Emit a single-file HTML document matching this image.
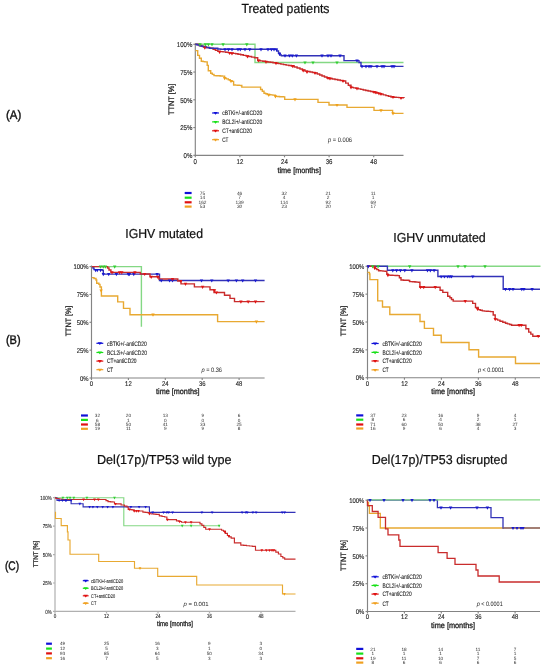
<!DOCTYPE html>
<html><head><meta charset="utf-8"><style>
html,body{margin:0;padding:0;background:#fff;width:550px;height:672px;overflow:hidden}
svg{display:block;will-change:transform}
text{font-family:"Liberation Sans", sans-serif;text-rendering:geometricPrecision}
</style></head><body>
<svg width="550" height="672" viewBox="0 0 550 672">
<rect width="550" height="672" fill="#fff"/>
<path d="M195.3,43.3 V155.3 H403.5" stroke="#848484" stroke-width="1.15" fill="none"/>
<path d="M193.3,155.3 H195.3" stroke="#848484" stroke-width="1.15"/>
<text x="192.40" y="158.10" font-size="7" text-anchor="end" fill="#1e1e1e" font-weight="normal" font-style="normal" textLength="8.8" lengthAdjust="spacingAndGlyphs" stroke="#1e1e1e" stroke-width="0.126" >0%</text>
<path d="M193.3,127.55000000000001 H195.3" stroke="#848484" stroke-width="1.15"/>
<text x="192.40" y="130.35" font-size="7" text-anchor="end" fill="#1e1e1e" font-weight="normal" font-style="normal" textLength="12.19" lengthAdjust="spacingAndGlyphs" stroke="#1e1e1e" stroke-width="0.126" >25%</text>
<path d="M193.3,99.80000000000001 H195.3" stroke="#848484" stroke-width="1.15"/>
<text x="192.40" y="102.60" font-size="7" text-anchor="end" fill="#1e1e1e" font-weight="normal" font-style="normal" textLength="12.19" lengthAdjust="spacingAndGlyphs" stroke="#1e1e1e" stroke-width="0.126" >50%</text>
<path d="M193.3,72.05 H195.3" stroke="#848484" stroke-width="1.15"/>
<text x="192.40" y="74.85" font-size="7" text-anchor="end" fill="#1e1e1e" font-weight="normal" font-style="normal" textLength="12.19" lengthAdjust="spacingAndGlyphs" stroke="#1e1e1e" stroke-width="0.126" >75%</text>
<path d="M193.3,44.3 H195.3" stroke="#848484" stroke-width="1.15"/>
<text x="192.40" y="47.10" font-size="7" text-anchor="end" fill="#1e1e1e" font-weight="normal" font-style="normal" textLength="15.57" lengthAdjust="spacingAndGlyphs" stroke="#1e1e1e" stroke-width="0.126" >100%</text>
<path d="M195.3,155.3 V157.3" stroke="#848484" stroke-width="1.15"/>
<text x="195.30" y="163.80" font-size="7" text-anchor="middle" fill="#1e1e1e" font-weight="normal" font-style="normal" textLength="3.39" lengthAdjust="spacingAndGlyphs" stroke="#1e1e1e" stroke-width="0.126" >0</text>
<path d="M239.9,155.3 V157.3" stroke="#848484" stroke-width="1.15"/>
<text x="239.90" y="163.80" font-size="7" text-anchor="middle" fill="#1e1e1e" font-weight="normal" font-style="normal" textLength="6.77" lengthAdjust="spacingAndGlyphs" stroke="#1e1e1e" stroke-width="0.126" >12</text>
<path d="M284.5,155.3 V157.3" stroke="#848484" stroke-width="1.15"/>
<text x="284.50" y="163.80" font-size="7" text-anchor="middle" fill="#1e1e1e" font-weight="normal" font-style="normal" textLength="6.77" lengthAdjust="spacingAndGlyphs" stroke="#1e1e1e" stroke-width="0.126" >24</text>
<path d="M329.1,155.3 V157.3" stroke="#848484" stroke-width="1.15"/>
<text x="329.10" y="163.80" font-size="7" text-anchor="middle" fill="#1e1e1e" font-weight="normal" font-style="normal" textLength="6.77" lengthAdjust="spacingAndGlyphs" stroke="#1e1e1e" stroke-width="0.126" >36</text>
<path d="M373.70000000000005,155.3 V157.3" stroke="#848484" stroke-width="1.15"/>
<text x="373.70" y="163.80" font-size="7" text-anchor="middle" fill="#1e1e1e" font-weight="normal" font-style="normal" textLength="6.77" lengthAdjust="spacingAndGlyphs" stroke="#1e1e1e" stroke-width="0.126" >48</text>
<text x="0" y="0" font-size="8" text-anchor="middle" fill="#1e1e1e" textLength="31.3" lengthAdjust="spacingAndGlyphs" stroke="#1e1e1e" stroke-width="0.25" transform="translate(174.48,99.4) rotate(-90)">TTNT [%]</text>
<text x="299.20" y="172.88" font-size="8" text-anchor="middle" fill="#1e1e1e" font-weight="normal" font-style="normal" textLength="43.60000000000002" lengthAdjust="spacingAndGlyphs" stroke="#1e1e1e" stroke-width="0.3" >time [months]</text>
<text x="328" y="142.376" font-size="6.6" fill="#1e1e1e" textLength="24" lengthAdjust="spacingAndGlyphs"><tspan font-style="italic">p</tspan> = 0.006</text>
<path d="M195.4,50.6 H197.7 V55.4 H199.5 V58.3 H201.3 V61.3 H203.1 V61.6 H204.8 V61.9 H207.2 V65.4 H208.3 V70.7 H210.7 V73.2 H212.3 V74.4 H214.0 V75.6 H216.1 V75.7 H218.1 V75.8 H220.1 V76.0 H222.2 V76.1 H224.6 V78.1 H226.4 V78.9 H228.3 V79.8 H230.2 V80.6 H232.0 V81.4 H233.6 V85 H235.4 V85.1 H237.3 V85.2 H239.2 V85.4 H241.0 V85.5 H241.8 V87.1 H258.2 H260.6 V89.5 H262.3 V91.3 H264.0 V93.2 H265.6 V93.8 H267.2 V94.5 H269.1 V94.7 H270.9 V94.9 H272.8 V95.1 H274.6 V95.3 H275.4 V96.4 H277.4 V96.5 H279.5 V96.7 H281.6 V96.8 H283.6 V96.9 H284.7 V99.4 H318 V102.4 H329 V105 H347 V107.4 H374 V110.4 H392.6 V113.4 H403.5" stroke="#e8a932" stroke-width="1.4" fill="none"/>
<path d="M195.3,44.3 H255 V62.5 H403.5" stroke="#84d884" stroke-width="1.4" fill="none"/>
<path d="M195.4,44.3 H199.0 V45.5 H201.3 V46.3 H203.6 V47.1 H206.0 V47.5 H208.3 V47.9 H210.7 V48.3 H213.1 V49.3 H215.4 V50.2 H217.8 V51.2 H220.4 V51.6 H223.0 V51.9 H225.6 V52.3 H228.2 V52.6 H230.8 V53.0 H233.2 V53.4 H235.6 V53.8 H238.0 V54.2 H240.7 V54.8 H243.3 V55.4 H245.9 V55.9 H248.6 V56.5 H251.6 V57.1 H254.5 V57.7 H257.7 V60.5 H260.2 V60.9 H262.8 V61.2 H265.4 V61.6 H267.9 V62.0 H270.4 V62.3 H273.0 V62.7 H275.6 V63.2 H278.3 V63.6 H280.9 V64.1 H283.5 V64.6 H286.1 V65.1 H288.8 V65.5 H291.4 V66.0 H294.3 V67.0 H297.1 V68.0 H300.0 V69.0 H302.5 V70.0 H305.0 V71.0 H307.5 V71.5 H310.0 V72.0 H312.5 V72.5 H315.0 V73.0 H317.3 V74.0 H319.7 V75.0 H322.0 V76.0 H324.5 V77.0 H327.0 V78.0 H329.7 V78.5 H332.3 V79.0 H335.0 V79.5 H337.7 V80.0 H340.3 V80.5 H343.0 V81.0 H345.7 V83.1 H348.3 V85.3 H351.0 V87.4 H353.4 V87.9 H355.9 V88.4 H358.3 V88.9 H360.8 V89.4 H363.2 V90.0 H365.7 V90.5 H368.1 V91.0 H370.6 V91.5 H373.0 V92.0 H375.6 V92.7 H378.1 V93.4 H380.7 V94.1 H383.3 V94.9 H385.9 V95.6 H388.4 V96.3 H391.0 V97.0 H393.6 V97.2 H396.2 V97.4 H398.8 V97.6 H401.4 V97.8 H404.0 V98.0" stroke="#c92c2c" stroke-width="1.4" fill="none"/>
<path d="M195.3,44.3 H197 V45 H200 V46 H202.5 V46.5 H206 V47.5 H209.5 V48.3 H217.8 V49 H220.8 V49.3 H276.8 V51 H278.5 V53 H280 V55 H281.4 V55.7 H344 V60.6 H359 V62.5 H361 V66.4 H403.5" stroke="#3232b8" stroke-width="1.4" fill="none"/>
<path d="M223.30,48.20 H226.70 L225,51.40 Z" fill="#1818d0"/>
<path d="M226.80,48.20 H230.20 L228.5,51.40 Z" fill="#1818d0"/>
<path d="M230.30,48.20 H233.70 L232,51.40 Z" fill="#1818d0"/>
<path d="M236.30,48.20 H239.70 L238,51.40 Z" fill="#1818d0"/>
<path d="M238.60,48.20 H242.00 L240.3,51.40 Z" fill="#1818d0"/>
<path d="M243.30,48.20 H246.70 L245,51.40 Z" fill="#1818d0"/>
<path d="M248.00,48.20 H251.40 L249.7,51.40 Z" fill="#1818d0"/>
<path d="M259.30,48.20 H262.70 L261,51.40 Z" fill="#1818d0"/>
<path d="M266.30,48.20 H269.70 L268,51.40 Z" fill="#1818d0"/>
<path d="M269.70,48.20 H273.10 L271.4,51.40 Z" fill="#1818d0"/>
<path d="M272.30,48.20 H275.70 L274,51.40 Z" fill="#1818d0"/>
<path d="M274.70,48.40 H278.10 L276.4,51.60 Z" fill="#1818d0"/>
<path d="M277.80,52.90 H281.20 L279.5,56.10 Z" fill="#1818d0"/>
<path d="M283.30,54.60 H286.70 L285,57.80 Z" fill="#1818d0"/>
<path d="M287.80,54.60 H291.20 L289.5,57.80 Z" fill="#1818d0"/>
<path d="M290.60,54.60 H294.00 L292.3,57.80 Z" fill="#1818d0"/>
<path d="M294.70,54.60 H298.10 L296.4,57.80 Z" fill="#1818d0"/>
<path d="M320.30,54.60 H323.70 L322,57.80 Z" fill="#1818d0"/>
<path d="M326.30,54.60 H329.70 L328,57.80 Z" fill="#1818d0"/>
<path d="M329.30,54.60 H332.70 L331,57.80 Z" fill="#1818d0"/>
<path d="M338.30,54.60 H341.70 L340,57.80 Z" fill="#1818d0"/>
<path d="M355.30,59.50 H358.70 L357,62.70 Z" fill="#1818d0"/>
<path d="M360.30,65.30 H363.70 L362,68.50 Z" fill="#1818d0"/>
<path d="M364.30,65.30 H367.70 L366,68.50 Z" fill="#1818d0"/>
<path d="M367.30,65.30 H370.70 L369,68.50 Z" fill="#1818d0"/>
<path d="M369.30,65.30 H372.70 L371,68.50 Z" fill="#1818d0"/>
<path d="M375.30,65.30 H378.70 L377,68.50 Z" fill="#1818d0"/>
<path d="M380.30,65.30 H383.70 L382,68.50 Z" fill="#1818d0"/>
<path d="M382.30,65.30 H385.70 L384,68.50 Z" fill="#1818d0"/>
<path d="M390.30,65.30 H393.70 L392,68.50 Z" fill="#1818d0"/>
<path d="M392.30,65.30 H395.70 L394,68.50 Z" fill="#1818d0"/>
<path d="M203.10,46.50 H206.50 L204.8,49.70 Z" fill="#e01414"/>
<path d="M217.90,50.90 H221.30 L219.6,54.10 Z" fill="#e01414"/>
<path d="M227.90,51.90 H231.30 L229.6,55.10 Z" fill="#e01414"/>
<path d="M230.30,52.40 H233.70 L232,55.60 Z" fill="#e01414"/>
<path d="M245.70,55.20 H249.10 L247.4,58.40 Z" fill="#e01414"/>
<path d="M256.90,59.40 H260.30 L258.6,62.60 Z" fill="#e01414"/>
<path d="M264.30,60.70 H267.70 L266,63.90 Z" fill="#e01414"/>
<path d="M274.30,62.10 H277.70 L276,65.30 Z" fill="#e01414"/>
<path d="M291.00,65.10 H294.40 L292.7,68.30 Z" fill="#e01414"/>
<path d="M301.50,69.40 H304.90 L303.2,72.60 Z" fill="#e01414"/>
<path d="M305.30,70.90 H308.70 L307,74.10 Z" fill="#e01414"/>
<path d="M313.30,71.90 H316.70 L315,75.10 Z" fill="#e01414"/>
<path d="M326.30,76.90 H329.70 L328,80.10 Z" fill="#e01414"/>
<path d="M328.30,77.40 H331.70 L330,80.60 Z" fill="#e01414"/>
<path d="M341.30,79.90 H344.70 L343,83.10 Z" fill="#e01414"/>
<path d="M349.30,86.30 H352.70 L351,89.50 Z" fill="#e01414"/>
<path d="M355.30,87.40 H358.70 L357,90.60 Z" fill="#e01414"/>
<path d="M372.30,90.90 H375.70 L374,94.10 Z" fill="#e01414"/>
<path d="M374.30,91.40 H377.70 L376,94.60 Z" fill="#e01414"/>
<path d="M377.30,92.40 H380.70 L379,95.60 Z" fill="#e01414"/>
<path d="M379.30,92.90 H382.70 L381,96.10 Z" fill="#e01414"/>
<path d="M391.30,95.90 H394.70 L393,99.10 Z" fill="#e01414"/>
<path d="M399.30,96.90 H402.70 L401,100.10 Z" fill="#e01414"/>
<path d="M198.30,43.20 H201.70 L200,46.40 Z" fill="#30d030"/>
<path d="M203.70,43.20 H207.10 L205.4,46.40 Z" fill="#30d030"/>
<path d="M206.70,43.20 H210.10 L208.4,46.40 Z" fill="#30d030"/>
<path d="M210.30,43.20 H213.70 L212,46.40 Z" fill="#30d030"/>
<path d="M221.40,43.20 H224.80 L223.1,46.40 Z" fill="#30d030"/>
<path d="M245.10,43.20 H248.50 L246.8,46.40 Z" fill="#30d030"/>
<path d="M303.30,61.40 H306.70 L305,64.60 Z" fill="#30d030"/>
<path d="M311.30,61.40 H314.70 L313,64.60 Z" fill="#30d030"/>
<path d="M335.30,61.40 H338.70 L337,64.60 Z" fill="#30d030"/>
<path d="M222.90,77.00 H226.30 L224.6,80.20 Z" fill="#f0a018"/>
<path d="M229.30,80.10 H232.70 L231,83.30 Z" fill="#f0a018"/>
<path d="M267.10,93.70 H270.50 L268.8,96.90 Z" fill="#f0a018"/>
<path d="M273.70,95.30 H277.10 L275.4,98.50 Z" fill="#f0a018"/>
<path d="M293.30,98.30 H296.70 L295,101.50 Z" fill="#f0a018"/>
<path d="M335.30,103.90 H338.70 L337,107.10 Z" fill="#f0a018"/>
<path d="M379.30,109.30 H382.70 L381,112.50 Z" fill="#f0a018"/>
<path d="M391.30,112.30 H394.70 L393,115.50 Z" fill="#f0a018"/>
<path d="M212.1,113 H219" stroke="#1010d8" stroke-width="1.2"/>
<path d="M213.35000000000002,112.0 L217.75,112.0 L215.55,114.8 Z" fill="#1010d8"/>
<text x="222.20" y="115.34" font-size="6.5" text-anchor="start" fill="#1e1e1e" font-weight="normal" font-style="normal" textLength="40" lengthAdjust="spacingAndGlyphs" stroke="#1e1e1e" stroke-width="0.117" >cBTKi+/-antiCD20</text>
<path d="M212.1,121.9 H219" stroke="#18e018" stroke-width="1.2"/>
<path d="M213.35000000000002,120.9 L217.75,120.9 L215.55,123.7 Z" fill="#18e018"/>
<text x="222.20" y="124.24" font-size="6.5" text-anchor="start" fill="#1e1e1e" font-weight="normal" font-style="normal" textLength="40" lengthAdjust="spacingAndGlyphs" stroke="#1e1e1e" stroke-width="0.117" >BCL2i+/-antiCD20</text>
<path d="M212.1,130.8 H219" stroke="#e01010" stroke-width="1.2"/>
<path d="M213.35000000000002,129.8 L217.75,129.8 L215.55,132.60000000000002 Z" fill="#e01010"/>
<text x="222.20" y="133.14" font-size="6.5" text-anchor="start" fill="#1e1e1e" font-weight="normal" font-style="normal" textLength="29.7" lengthAdjust="spacingAndGlyphs" stroke="#1e1e1e" stroke-width="0.117" >CT+antiCD20</text>
<path d="M212.1,139.7 H219" stroke="#f0a020" stroke-width="1.2"/>
<path d="M213.35000000000002,138.7 L217.75,138.7 L215.55,141.5 Z" fill="#f0a020"/>
<text x="222.20" y="142.04" font-size="6.5" text-anchor="start" fill="#1e1e1e" font-weight="normal" font-style="normal" textLength="6.2" lengthAdjust="spacingAndGlyphs" stroke="#1e1e1e" stroke-width="0.117" >CT</text>
<path d="M184.7,193 H191.6" stroke="#1010d8" stroke-width="2.2"/>
<text x="202.5" y="194.73" font-size="4.8" text-anchor="middle" fill="#2e2e2e">75</text>
<text x="239.6" y="194.73" font-size="4.8" text-anchor="middle" fill="#2e2e2e">46</text>
<text x="284.2" y="194.73" font-size="4.8" text-anchor="middle" fill="#2e2e2e">32</text>
<text x="328.2" y="194.73" font-size="4.8" text-anchor="middle" fill="#2e2e2e">21</text>
<text x="373.2" y="194.73" font-size="4.8" text-anchor="middle" fill="#2e2e2e">11</text>
<path d="M184.7,197.7 H191.6" stroke="#18e018" stroke-width="2.2"/>
<text x="202.5" y="199.43" font-size="4.8" text-anchor="middle" fill="#2e2e2e">14</text>
<text x="239.6" y="199.43" font-size="4.8" text-anchor="middle" fill="#2e2e2e">7</text>
<text x="284.2" y="199.43" font-size="4.8" text-anchor="middle" fill="#2e2e2e">4</text>
<text x="328.2" y="199.43" font-size="4.8" text-anchor="middle" fill="#2e2e2e">2</text>
<text x="373.2" y="199.43" font-size="4.8" text-anchor="middle" fill="#2e2e2e">1</text>
<path d="M184.7,202.3 H191.6" stroke="#e01010" stroke-width="2.2"/>
<text x="202.5" y="204.03" font-size="4.8" text-anchor="middle" fill="#2e2e2e">162</text>
<text x="239.6" y="204.03" font-size="4.8" text-anchor="middle" fill="#2e2e2e">139</text>
<text x="284.2" y="204.03" font-size="4.8" text-anchor="middle" fill="#2e2e2e">114</text>
<text x="328.2" y="204.03" font-size="4.8" text-anchor="middle" fill="#2e2e2e">92</text>
<text x="373.2" y="204.03" font-size="4.8" text-anchor="middle" fill="#2e2e2e">69</text>
<path d="M184.7,206.6 H191.6" stroke="#f0a020" stroke-width="2.2"/>
<text x="202.5" y="208.33" font-size="4.8" text-anchor="middle" fill="#2e2e2e">53</text>
<text x="239.6" y="208.33" font-size="4.8" text-anchor="middle" fill="#2e2e2e">30</text>
<text x="284.2" y="208.33" font-size="4.8" text-anchor="middle" fill="#2e2e2e">23</text>
<text x="328.2" y="208.33" font-size="4.8" text-anchor="middle" fill="#2e2e2e">20</text>
<text x="373.2" y="208.33" font-size="4.8" text-anchor="middle" fill="#2e2e2e">17</text>
<text x="285.45" y="12.70" font-size="13.2" text-anchor="middle" fill="#111" font-weight="normal" font-style="normal" textLength="88.1" lengthAdjust="spacingAndGlyphs" stroke="#111" stroke-width="0.22" >Treated patients</text>
<path d="M91.5,265.6 V378 H264.6" stroke="#848484" stroke-width="1.15" fill="none"/>
<path d="M89.5,378.0 H91.5" stroke="#848484" stroke-width="1.15"/>
<text x="88.60" y="380.72" font-size="6.8" text-anchor="end" fill="#1e1e1e" font-weight="normal" font-style="normal" textLength="8.55" lengthAdjust="spacingAndGlyphs" stroke="#1e1e1e" stroke-width="0.122" >0%</text>
<path d="M89.5,350.15 H91.5" stroke="#848484" stroke-width="1.15"/>
<text x="88.60" y="352.87" font-size="6.8" text-anchor="end" fill="#1e1e1e" font-weight="normal" font-style="normal" textLength="11.84" lengthAdjust="spacingAndGlyphs" stroke="#1e1e1e" stroke-width="0.122" >25%</text>
<path d="M89.5,322.3 H91.5" stroke="#848484" stroke-width="1.15"/>
<text x="88.60" y="325.02" font-size="6.8" text-anchor="end" fill="#1e1e1e" font-weight="normal" font-style="normal" textLength="11.84" lengthAdjust="spacingAndGlyphs" stroke="#1e1e1e" stroke-width="0.122" >50%</text>
<path d="M89.5,294.45000000000005 H91.5" stroke="#848484" stroke-width="1.15"/>
<text x="88.60" y="297.17" font-size="6.8" text-anchor="end" fill="#1e1e1e" font-weight="normal" font-style="normal" textLength="11.84" lengthAdjust="spacingAndGlyphs" stroke="#1e1e1e" stroke-width="0.122" >75%</text>
<path d="M89.5,266.6 H91.5" stroke="#848484" stroke-width="1.15"/>
<text x="88.60" y="269.32" font-size="6.8" text-anchor="end" fill="#1e1e1e" font-weight="normal" font-style="normal" textLength="15.13" lengthAdjust="spacingAndGlyphs" stroke="#1e1e1e" stroke-width="0.122" >100%</text>
<path d="M91.5,378 V380" stroke="#848484" stroke-width="1.15"/>
<text x="91.50" y="385.60" font-size="6.8" text-anchor="middle" fill="#1e1e1e" font-weight="normal" font-style="normal" textLength="3.29" lengthAdjust="spacingAndGlyphs" stroke="#1e1e1e" stroke-width="0.122" >0</text>
<path d="M128.4,378 V380" stroke="#848484" stroke-width="1.15"/>
<text x="128.40" y="385.60" font-size="6.8" text-anchor="middle" fill="#1e1e1e" font-weight="normal" font-style="normal" textLength="6.58" lengthAdjust="spacingAndGlyphs" stroke="#1e1e1e" stroke-width="0.122" >12</text>
<path d="M165.3,378 V380" stroke="#848484" stroke-width="1.15"/>
<text x="165.30" y="385.60" font-size="6.8" text-anchor="middle" fill="#1e1e1e" font-weight="normal" font-style="normal" textLength="6.58" lengthAdjust="spacingAndGlyphs" stroke="#1e1e1e" stroke-width="0.122" >24</text>
<path d="M202.2,378 V380" stroke="#848484" stroke-width="1.15"/>
<text x="202.20" y="385.60" font-size="6.8" text-anchor="middle" fill="#1e1e1e" font-weight="normal" font-style="normal" textLength="6.58" lengthAdjust="spacingAndGlyphs" stroke="#1e1e1e" stroke-width="0.122" >36</text>
<path d="M239.1,378 V380" stroke="#848484" stroke-width="1.15"/>
<text x="239.10" y="385.60" font-size="6.8" text-anchor="middle" fill="#1e1e1e" font-weight="normal" font-style="normal" textLength="6.58" lengthAdjust="spacingAndGlyphs" stroke="#1e1e1e" stroke-width="0.122" >48</text>
<text x="0" y="0" font-size="7.8" text-anchor="middle" fill="#1e1e1e" textLength="30.5" lengthAdjust="spacingAndGlyphs" stroke="#1e1e1e" stroke-width="0.25" transform="translate(70.608,321) rotate(-90)">TTNT [%]</text>
<text x="177.80" y="393.84" font-size="7.9" text-anchor="middle" fill="#1e1e1e" font-weight="normal" font-style="normal" textLength="43.599999999999994" lengthAdjust="spacingAndGlyphs" stroke="#1e1e1e" stroke-width="0.3" >time [months]</text>
<text x="201.5" y="371.904" font-size="6.4" fill="#1e1e1e" textLength="20.5" lengthAdjust="spacingAndGlyphs"><tspan font-style="italic">p</tspan> = 0.36</text>
<path d="M91.8,266.6 H141.4 V326.7" stroke="#84d884" stroke-width="1.4" fill="none"/>
<path d="M91.8,277.6 H94 V278.5 H96 V280 H96.7 V283.3 H98.9 V284.4 H100 V287 H101.4 V296 H117.7 V301.9 H123.5 V308.4 H130 V314.7 H217.6 V321.6 H264.6" stroke="#e8a932" stroke-width="1.4" fill="none"/>
<path d="M91.8,266.6 H93 V268 H94 V269.6 H102.2 V270.2 H103.3 V274.1 H159.5 V280.5 H264.6" stroke="#3232b8" stroke-width="1.4" fill="none"/>
<path d="M91.8,266.6 H107.6 V268 H109 V270 H110.9 V272.4 H140.3 V274 H150 V276.8 H158.9 V279 H177.8 V281 H181 V283.9 H194.4 V286.9 H210 V289.8 H214 V292.5 H224.5 V295.3 H230 V298.4 H234.5 V301.6 H264.6" stroke="#c92c2c" stroke-width="1.4" fill="none"/>
<path d="M93.90,269.10 H97.30 L95.6,272.30 Z" fill="#1818d0"/>
<path d="M95.60,269.10 H99.00 L97.3,272.30 Z" fill="#1818d0"/>
<path d="M98.80,269.10 H102.20 L100.5,272.30 Z" fill="#1818d0"/>
<path d="M101.60,273.00 H105.00 L103.3,276.20 Z" fill="#1818d0"/>
<path d="M107.00,273.00 H110.40 L108.7,276.20 Z" fill="#1818d0"/>
<path d="M114.70,273.00 H118.10 L116.4,276.20 Z" fill="#1818d0"/>
<path d="M126.60,273.00 H130.00 L128.3,276.20 Z" fill="#1818d0"/>
<path d="M127.70,273.00 H131.10 L129.4,276.20 Z" fill="#1818d0"/>
<path d="M132.10,273.00 H135.50 L133.8,276.20 Z" fill="#1818d0"/>
<path d="M155.40,273.00 H158.80 L157.1,276.20 Z" fill="#1818d0"/>
<path d="M159.60,279.40 H163.00 L161.3,282.60 Z" fill="#1818d0"/>
<path d="M167.90,279.40 H171.30 L169.6,282.60 Z" fill="#1818d0"/>
<path d="M170.80,279.40 H174.20 L172.5,282.60 Z" fill="#1818d0"/>
<path d="M199.80,279.40 H203.20 L201.5,282.60 Z" fill="#1818d0"/>
<path d="M210.10,279.40 H213.50 L211.8,282.60 Z" fill="#1818d0"/>
<path d="M226.50,279.40 H229.90 L228.2,282.60 Z" fill="#1818d0"/>
<path d="M234.70,279.40 H238.10 L236.4,282.60 Z" fill="#1818d0"/>
<path d="M241.00,279.40 H244.40 L242.7,282.60 Z" fill="#1818d0"/>
<path d="M253.80,279.40 H257.20 L255.5,282.60 Z" fill="#1818d0"/>
<path d="M110.30,271.30 H113.70 L112,274.50 Z" fill="#e01414"/>
<path d="M117.90,271.30 H121.30 L119.6,274.50 Z" fill="#e01414"/>
<path d="M120.10,271.30 H123.50 L121.8,274.50 Z" fill="#e01414"/>
<path d="M133.20,271.30 H136.60 L134.9,274.50 Z" fill="#e01414"/>
<path d="M143.00,272.90 H146.40 L144.7,276.10 Z" fill="#e01414"/>
<path d="M149.50,275.70 H152.90 L151.2,278.90 Z" fill="#e01414"/>
<path d="M156.00,275.70 H159.40 L157.7,278.90 Z" fill="#e01414"/>
<path d="M170.80,277.90 H174.20 L172.5,281.10 Z" fill="#e01414"/>
<path d="M179.10,279.90 H182.50 L180.8,283.10 Z" fill="#e01414"/>
<path d="M183.80,282.80 H187.20 L185.5,286.00 Z" fill="#e01414"/>
<path d="M200.90,285.80 H204.30 L202.6,289.00 Z" fill="#e01414"/>
<path d="M212.80,289.30 H216.20 L214.5,292.50 Z" fill="#e01414"/>
<path d="M214.70,291.40 H218.10 L216.4,294.60 Z" fill="#e01414"/>
<path d="M239.20,300.50 H242.60 L240.9,303.70 Z" fill="#e01414"/>
<path d="M246.50,300.50 H249.90 L248.2,303.70 Z" fill="#e01414"/>
<path d="M253.80,300.50 H257.20 L255.5,303.70 Z" fill="#e01414"/>
<path d="M98.80,265.50 H102.20 L100.5,268.70 Z" fill="#30d030"/>
<path d="M101.60,265.50 H105.00 L103.3,268.70 Z" fill="#30d030"/>
<path d="M103.70,265.50 H107.10 L105.4,268.70 Z" fill="#30d030"/>
<path d="M113.00,265.50 H116.40 L114.7,268.70 Z" fill="#30d030"/>
<path d="M99.40,289.40 H102.80 L101.1,292.60 Z" fill="#f0a018"/>
<path d="M151.30,313.60 H154.70 L153,316.80 Z" fill="#f0a018"/>
<path d="M254.70,320.50 H258.10 L256.4,323.70 Z" fill="#f0a018"/>
<path d="M96.4,343.3 H103.3" stroke="#1010d8" stroke-width="1.2"/>
<path d="M97.64999999999999,342.3 L102.05,342.3 L99.85,345.1 Z" fill="#1010d8"/>
<text x="106.90" y="345.60" font-size="6.4" text-anchor="start" fill="#1e1e1e" font-weight="normal" font-style="normal" textLength="40" lengthAdjust="spacingAndGlyphs" stroke="#1e1e1e" stroke-width="0.115" >cBTKi+/-antiCD20</text>
<path d="M96.4,352.5 H103.3" stroke="#18e018" stroke-width="1.2"/>
<path d="M97.64999999999999,351.5 L102.05,351.5 L99.85,354.3 Z" fill="#18e018"/>
<text x="106.90" y="354.80" font-size="6.4" text-anchor="start" fill="#1e1e1e" font-weight="normal" font-style="normal" textLength="40" lengthAdjust="spacingAndGlyphs" stroke="#1e1e1e" stroke-width="0.115" >BCL2i+/-antiCD20</text>
<path d="M96.4,361.1 H103.3" stroke="#e01010" stroke-width="1.2"/>
<path d="M97.64999999999999,360.1 L102.05,360.1 L99.85,362.90000000000003 Z" fill="#e01010"/>
<text x="106.90" y="363.40" font-size="6.4" text-anchor="start" fill="#1e1e1e" font-weight="normal" font-style="normal" textLength="29.7" lengthAdjust="spacingAndGlyphs" stroke="#1e1e1e" stroke-width="0.115" >CT+antiCD20</text>
<path d="M96.4,369.7 H103.3" stroke="#f0a020" stroke-width="1.2"/>
<path d="M97.64999999999999,368.7 L102.05,368.7 L99.85,371.5 Z" fill="#f0a020"/>
<text x="106.90" y="372.00" font-size="6.4" text-anchor="start" fill="#1e1e1e" font-weight="normal" font-style="normal" textLength="6.2" lengthAdjust="spacingAndGlyphs" stroke="#1e1e1e" stroke-width="0.115" >CT</text>
<path d="M81,415.5 H87.9" stroke="#1010d8" stroke-width="2.2"/>
<text x="97.4" y="417.19" font-size="4.7" text-anchor="middle" fill="#2e2e2e">32</text>
<text x="128.4" y="417.19" font-size="4.7" text-anchor="middle" fill="#2e2e2e">20</text>
<text x="165.3" y="417.19" font-size="4.7" text-anchor="middle" fill="#2e2e2e">13</text>
<text x="202.7" y="417.19" font-size="4.7" text-anchor="middle" fill="#2e2e2e">9</text>
<text x="239.1" y="417.19" font-size="4.7" text-anchor="middle" fill="#2e2e2e">6</text>
<path d="M81,419.9 H87.9" stroke="#18e018" stroke-width="2.2"/>
<text x="97.4" y="421.59" font-size="4.7" text-anchor="middle" fill="#2e2e2e">6</text>
<text x="128.4" y="421.59" font-size="4.7" text-anchor="middle" fill="#2e2e2e">1</text>
<text x="165.3" y="421.59" font-size="4.7" text-anchor="middle" fill="#2e2e2e">0</text>
<text x="202.7" y="421.59" font-size="4.7" text-anchor="middle" fill="#2e2e2e">0</text>
<text x="239.1" y="421.59" font-size="4.7" text-anchor="middle" fill="#2e2e2e">0</text>
<path d="M81,424.5 H87.9" stroke="#e01010" stroke-width="2.2"/>
<text x="97.4" y="426.19" font-size="4.7" text-anchor="middle" fill="#2e2e2e">58</text>
<text x="128.4" y="426.19" font-size="4.7" text-anchor="middle" fill="#2e2e2e">50</text>
<text x="165.3" y="426.19" font-size="4.7" text-anchor="middle" fill="#2e2e2e">41</text>
<text x="202.7" y="426.19" font-size="4.7" text-anchor="middle" fill="#2e2e2e">33</text>
<text x="239.1" y="426.19" font-size="4.7" text-anchor="middle" fill="#2e2e2e">25</text>
<path d="M81,428.8 H87.9" stroke="#f0a020" stroke-width="2.2"/>
<text x="97.4" y="430.49" font-size="4.7" text-anchor="middle" fill="#2e2e2e">19</text>
<text x="128.4" y="430.49" font-size="4.7" text-anchor="middle" fill="#2e2e2e">11</text>
<text x="165.3" y="430.49" font-size="4.7" text-anchor="middle" fill="#2e2e2e">9</text>
<text x="202.7" y="430.49" font-size="4.7" text-anchor="middle" fill="#2e2e2e">9</text>
<text x="239.1" y="430.49" font-size="4.7" text-anchor="middle" fill="#2e2e2e">8</text>
<text x="164.15" y="238.20" font-size="13" text-anchor="middle" fill="#111" font-weight="normal" font-style="normal" textLength="77.7" lengthAdjust="spacingAndGlyphs" stroke="#111" stroke-width="0.22" >IGHV mutated</text>
<path d="M367.5,265.3 V377.7 H540" stroke="#848484" stroke-width="1.15" fill="none"/>
<path d="M365.5,377.7 H367.5" stroke="#848484" stroke-width="1.15"/>
<text x="364.30" y="380.42" font-size="6.8" text-anchor="end" fill="#1e1e1e" font-weight="normal" font-style="normal" textLength="8.55" lengthAdjust="spacingAndGlyphs" stroke="#1e1e1e" stroke-width="0.122" >0%</text>
<path d="M365.5,349.85 H367.5" stroke="#848484" stroke-width="1.15"/>
<text x="364.30" y="352.57" font-size="6.8" text-anchor="end" fill="#1e1e1e" font-weight="normal" font-style="normal" textLength="11.84" lengthAdjust="spacingAndGlyphs" stroke="#1e1e1e" stroke-width="0.122" >25%</text>
<path d="M365.5,322.0 H367.5" stroke="#848484" stroke-width="1.15"/>
<text x="364.30" y="324.72" font-size="6.8" text-anchor="end" fill="#1e1e1e" font-weight="normal" font-style="normal" textLength="11.84" lengthAdjust="spacingAndGlyphs" stroke="#1e1e1e" stroke-width="0.122" >50%</text>
<path d="M365.5,294.15 H367.5" stroke="#848484" stroke-width="1.15"/>
<text x="364.30" y="296.87" font-size="6.8" text-anchor="end" fill="#1e1e1e" font-weight="normal" font-style="normal" textLength="11.84" lengthAdjust="spacingAndGlyphs" stroke="#1e1e1e" stroke-width="0.122" >75%</text>
<path d="M365.5,266.3 H367.5" stroke="#848484" stroke-width="1.15"/>
<text x="364.30" y="269.02" font-size="6.8" text-anchor="end" fill="#1e1e1e" font-weight="normal" font-style="normal" textLength="15.13" lengthAdjust="spacingAndGlyphs" stroke="#1e1e1e" stroke-width="0.122" >100%</text>
<path d="M367.5,377.7 V379.7" stroke="#848484" stroke-width="1.15"/>
<text x="367.50" y="385.60" font-size="6.8" text-anchor="middle" fill="#1e1e1e" font-weight="normal" font-style="normal" textLength="3.29" lengthAdjust="spacingAndGlyphs" stroke="#1e1e1e" stroke-width="0.122" >0</text>
<path d="M404.45,377.7 V379.7" stroke="#848484" stroke-width="1.15"/>
<text x="404.45" y="385.60" font-size="6.8" text-anchor="middle" fill="#1e1e1e" font-weight="normal" font-style="normal" textLength="6.58" lengthAdjust="spacingAndGlyphs" stroke="#1e1e1e" stroke-width="0.122" >12</text>
<path d="M441.4,377.7 V379.7" stroke="#848484" stroke-width="1.15"/>
<text x="441.40" y="385.60" font-size="6.8" text-anchor="middle" fill="#1e1e1e" font-weight="normal" font-style="normal" textLength="6.58" lengthAdjust="spacingAndGlyphs" stroke="#1e1e1e" stroke-width="0.122" >24</text>
<path d="M478.35,377.7 V379.7" stroke="#848484" stroke-width="1.15"/>
<text x="478.35" y="385.60" font-size="6.8" text-anchor="middle" fill="#1e1e1e" font-weight="normal" font-style="normal" textLength="6.58" lengthAdjust="spacingAndGlyphs" stroke="#1e1e1e" stroke-width="0.122" >36</text>
<path d="M515.3,377.7 V379.7" stroke="#848484" stroke-width="1.15"/>
<text x="515.30" y="385.60" font-size="6.8" text-anchor="middle" fill="#1e1e1e" font-weight="normal" font-style="normal" textLength="6.58" lengthAdjust="spacingAndGlyphs" stroke="#1e1e1e" stroke-width="0.122" >48</text>
<text x="0" y="0" font-size="7.8" text-anchor="middle" fill="#1e1e1e" textLength="30.5" lengthAdjust="spacingAndGlyphs" stroke="#1e1e1e" stroke-width="0.25" transform="translate(346.108,321) rotate(-90)">TTNT [%]</text>
<text x="453.15" y="393.84" font-size="7.9" text-anchor="middle" fill="#1e1e1e" font-weight="normal" font-style="normal" textLength="43.69999999999999" lengthAdjust="spacingAndGlyphs" stroke="#1e1e1e" stroke-width="0.3" >time [months]</text>
<text x="478" y="371.904" font-size="6.4" fill="#1e1e1e" textLength="26" lengthAdjust="spacingAndGlyphs"><tspan font-style="italic">p</tspan> &lt; 0.0001</text>
<path d="M367.5,266.3 H540.5" stroke="#84d884" stroke-width="1.4" fill="none"/>
<path d="M367.5,272.4 H369.4 V274 H369.9 V279.6 H377.7 V300.9 H382.5 V307 H389.8 V314.5 H420 V321.5 H424.4 V328.4 H433.5 V335.2 H441.2 V342.5 H469 V349.7 H478.6 V357 H515.5 V363.5 H540" stroke="#e8a932" stroke-width="1.4" fill="none"/>
<path d="M367.5,266.3 H387.4 V270.3 H437.9 V276.5 H503.2 V289.2 H540" stroke="#3232b8" stroke-width="1.4" fill="none"/>
<path d="M367.5,266.3 H373.2 H375.0 V268.5 H376.8 V269.6 H378.6 V270.7 H380.8 V270.9 H383.0 V271.1 H385.2 V271.3 H386.8 V274.0 H387.9 V275.1 H390.3 V275.2 H392.8 V275.4 H395.2 V275.5 H397.7 V275.6 H399.4 V277.8 H401.0 V280.0 H403.5 V280.2 H406.1 V280.3 H408.6 V280.5 H409.7 V281.6 H412.4 V281.8 H415.0 V282.0 H416.7 V282.1 H418.4 V282.2 H419.9 V287.2 H437.4 H440.1 V290.2 H442.8 V292.4 H447.2 H447.7 V296.2 H449.9 V297.8 H451.5 V299.5 H453.2 V301.1 H469.5 H472.7 V303.4 H475.5 V307.5 H478.2 V309.6 H480.2 V310.2 H482.3 V310.9 H484.4 V311.1 H486.4 V311.2 H488.4 V311.4 H490.5 V311.6 H493.2 V315.0 H495.2 V319.1 H497.6 V320.1 H500.0 V321.2 H502.8 V322.2 H505.5 V323.2 H507.5 V323.9 H509.6 V324.5 H511.6 V325.2 H523.9 H525.9 V328.7 H528.7 V332.1 H530.8 V334.1 H532.8 V336.2 H540" stroke="#c92c2c" stroke-width="1.4" fill="none"/>
<path d="M366.60,265.20 H370.00 L368.3,268.40 Z" fill="#1818d0"/>
<path d="M391.10,269.20 H394.50 L392.8,272.40 Z" fill="#1818d0"/>
<path d="M394.90,269.20 H398.30 L396.6,272.40 Z" fill="#1818d0"/>
<path d="M398.70,269.20 H402.10 L400.4,272.40 Z" fill="#1818d0"/>
<path d="M403.10,269.20 H406.50 L404.8,272.40 Z" fill="#1818d0"/>
<path d="M410.20,269.20 H413.60 L411.9,272.40 Z" fill="#1818d0"/>
<path d="M425.80,269.20 H429.20 L427.5,272.40 Z" fill="#1818d0"/>
<path d="M428.60,269.20 H432.00 L430.3,272.40 Z" fill="#1818d0"/>
<path d="M432.40,269.20 H435.80 L434.1,272.40 Z" fill="#1818d0"/>
<path d="M439.50,275.40 H442.90 L441.2,278.60 Z" fill="#1818d0"/>
<path d="M442.70,275.40 H446.10 L444.4,278.60 Z" fill="#1818d0"/>
<path d="M446.00,275.40 H449.40 L447.7,278.60 Z" fill="#1818d0"/>
<path d="M448.20,275.40 H451.60 L449.9,278.60 Z" fill="#1818d0"/>
<path d="M449.80,275.40 H453.20 L451.5,278.60 Z" fill="#1818d0"/>
<path d="M471.10,275.40 H474.50 L472.8,278.60 Z" fill="#1818d0"/>
<path d="M503.80,288.10 H507.20 L505.5,291.30 Z" fill="#1818d0"/>
<path d="M507.90,288.10 H511.30 L509.6,291.30 Z" fill="#1818d0"/>
<path d="M511.30,288.10 H514.70 L513,291.30 Z" fill="#1818d0"/>
<path d="M520.10,288.10 H523.50 L521.8,291.30 Z" fill="#1818d0"/>
<path d="M522.20,288.10 H525.60 L523.9,291.30 Z" fill="#1818d0"/>
<path d="M530.40,288.10 H533.80 L532.1,291.30 Z" fill="#1818d0"/>
<path d="M372.90,266.70 H376.30 L374.6,269.90 Z" fill="#e01414"/>
<path d="M386.20,274.00 H389.60 L387.9,277.20 Z" fill="#e01414"/>
<path d="M418.80,286.10 H422.20 L420.5,289.30 Z" fill="#e01414"/>
<path d="M422.00,286.10 H425.40 L423.7,289.30 Z" fill="#e01414"/>
<path d="M433.50,286.10 H436.90 L435.2,289.30 Z" fill="#e01414"/>
<path d="M463.50,300.00 H466.90 L465.2,303.20 Z" fill="#e01414"/>
<path d="M475.80,307.90 H479.20 L477.5,311.10 Z" fill="#e01414"/>
<path d="M493.50,318.00 H496.90 L495.2,321.20 Z" fill="#e01414"/>
<path d="M517.40,324.10 H520.80 L519.1,327.30 Z" fill="#e01414"/>
<path d="M519.50,324.10 H522.90 L521.2,327.30 Z" fill="#e01414"/>
<path d="M536.50,335.10 H539.90 L538.2,338.30 Z" fill="#e01414"/>
<path d="M370.90,265.20 H374.30 L372.6,268.40 Z" fill="#30d030"/>
<path d="M376.40,265.20 H379.80 L378.1,268.40 Z" fill="#30d030"/>
<path d="M408.00,265.20 H411.40 L409.7,268.40 Z" fill="#30d030"/>
<path d="M456.30,265.20 H459.70 L458,268.40 Z" fill="#30d030"/>
<path d="M463.30,265.20 H466.70 L465,268.40 Z" fill="#30d030"/>
<path d="M483.30,265.20 H486.70 L485,268.40 Z" fill="#30d030"/>
<path d="M371.5,343.5 H378.7" stroke="#1010d8" stroke-width="1.2"/>
<path d="M372.90000000000003,342.5 L377.3,342.5 L375.1,345.3 Z" fill="#1010d8"/>
<text x="382.40" y="345.80" font-size="6.4" text-anchor="start" fill="#1e1e1e" font-weight="normal" font-style="normal" textLength="39.4" lengthAdjust="spacingAndGlyphs" stroke="#1e1e1e" stroke-width="0.115" >cBTKi+/-antiCD20</text>
<path d="M371.5,352.4 H378.7" stroke="#18e018" stroke-width="1.2"/>
<path d="M372.90000000000003,351.4 L377.3,351.4 L375.1,354.2 Z" fill="#18e018"/>
<text x="382.40" y="354.70" font-size="6.4" text-anchor="start" fill="#1e1e1e" font-weight="normal" font-style="normal" textLength="39.4" lengthAdjust="spacingAndGlyphs" stroke="#1e1e1e" stroke-width="0.115" >BCL2i+/-antiCD20</text>
<path d="M371.5,361 H378.7" stroke="#e01010" stroke-width="1.2"/>
<path d="M372.90000000000003,360.0 L377.3,360.0 L375.1,362.8 Z" fill="#e01010"/>
<text x="382.40" y="363.30" font-size="6.4" text-anchor="start" fill="#1e1e1e" font-weight="normal" font-style="normal" textLength="29.2" lengthAdjust="spacingAndGlyphs" stroke="#1e1e1e" stroke-width="0.115" >CT+antiCD20</text>
<path d="M371.5,369.9 H378.7" stroke="#f0a020" stroke-width="1.2"/>
<path d="M372.90000000000003,368.9 L377.3,368.9 L375.1,371.7 Z" fill="#f0a020"/>
<text x="382.40" y="372.20" font-size="6.4" text-anchor="start" fill="#1e1e1e" font-weight="normal" font-style="normal" textLength="6.2" lengthAdjust="spacingAndGlyphs" stroke="#1e1e1e" stroke-width="0.115" >CT</text>
<path d="M356.2,415.4 H363.3" stroke="#1010d8" stroke-width="2.2"/>
<text x="372.9" y="417.09" font-size="4.7" text-anchor="middle" fill="#2e2e2e">37</text>
<text x="404" y="417.09" font-size="4.7" text-anchor="middle" fill="#2e2e2e">23</text>
<text x="440.6" y="417.09" font-size="4.7" text-anchor="middle" fill="#2e2e2e">16</text>
<text x="478" y="417.09" font-size="4.7" text-anchor="middle" fill="#2e2e2e">9</text>
<text x="515" y="417.09" font-size="4.7" text-anchor="middle" fill="#2e2e2e">4</text>
<path d="M356.2,419.7 H363.3" stroke="#18e018" stroke-width="2.2"/>
<text x="372.9" y="421.39" font-size="4.7" text-anchor="middle" fill="#2e2e2e">8</text>
<text x="404" y="421.39" font-size="4.7" text-anchor="middle" fill="#2e2e2e">6</text>
<text x="440.6" y="421.39" font-size="4.7" text-anchor="middle" fill="#2e2e2e">4</text>
<text x="478" y="421.39" font-size="4.7" text-anchor="middle" fill="#2e2e2e">2</text>
<text x="515" y="421.39" font-size="4.7" text-anchor="middle" fill="#2e2e2e">1</text>
<path d="M356.2,424.5 H363.3" stroke="#e01010" stroke-width="2.2"/>
<text x="372.9" y="426.19" font-size="4.7" text-anchor="middle" fill="#2e2e2e">71</text>
<text x="404" y="426.19" font-size="4.7" text-anchor="middle" fill="#2e2e2e">60</text>
<text x="440.6" y="426.19" font-size="4.7" text-anchor="middle" fill="#2e2e2e">50</text>
<text x="478" y="426.19" font-size="4.7" text-anchor="middle" fill="#2e2e2e">38</text>
<text x="515" y="426.19" font-size="4.7" text-anchor="middle" fill="#2e2e2e">27</text>
<path d="M356.2,428.5 H363.3" stroke="#f0a020" stroke-width="2.2"/>
<text x="372.9" y="430.19" font-size="4.7" text-anchor="middle" fill="#2e2e2e">16</text>
<text x="404" y="430.19" font-size="4.7" text-anchor="middle" fill="#2e2e2e">9</text>
<text x="440.6" y="430.19" font-size="4.7" text-anchor="middle" fill="#2e2e2e">6</text>
<text x="478" y="430.19" font-size="4.7" text-anchor="middle" fill="#2e2e2e">4</text>
<text x="515" y="430.19" font-size="4.7" text-anchor="middle" fill="#2e2e2e">3</text>
<text x="439.50" y="241.60" font-size="13" text-anchor="middle" fill="#111" font-weight="normal" font-style="normal" textLength="92.60000000000002" lengthAdjust="spacingAndGlyphs" stroke="#111" stroke-width="0.22" >IGHV unmutated</text>
<path d="M55,496.7 V611.4 H295.5" stroke="#b0b0b0" stroke-width="1.2" fill="none"/>
<path d="M53,611.4 H55" stroke="#b0b0b0" stroke-width="1.2"/>
<text x="51.80" y="613.76" font-size="5.9" text-anchor="end" fill="#1e1e1e" font-weight="normal" font-style="normal" textLength="6.56" lengthAdjust="spacingAndGlyphs" stroke="#1e1e1e" stroke-width="0.106" >0%</text>
<path d="M53,582.975 H55" stroke="#b0b0b0" stroke-width="1.2"/>
<text x="51.80" y="585.34" font-size="5.9" text-anchor="end" fill="#1e1e1e" font-weight="normal" font-style="normal" textLength="9.09" lengthAdjust="spacingAndGlyphs" stroke="#1e1e1e" stroke-width="0.106" >25%</text>
<path d="M53,554.55 H55" stroke="#b0b0b0" stroke-width="1.2"/>
<text x="51.80" y="556.91" font-size="5.9" text-anchor="end" fill="#1e1e1e" font-weight="normal" font-style="normal" textLength="9.09" lengthAdjust="spacingAndGlyphs" stroke="#1e1e1e" stroke-width="0.106" >50%</text>
<path d="M53,526.125 H55" stroke="#b0b0b0" stroke-width="1.2"/>
<text x="51.80" y="528.49" font-size="5.9" text-anchor="end" fill="#1e1e1e" font-weight="normal" font-style="normal" textLength="9.09" lengthAdjust="spacingAndGlyphs" stroke="#1e1e1e" stroke-width="0.106" >75%</text>
<path d="M53,497.7 H55" stroke="#b0b0b0" stroke-width="1.2"/>
<text x="51.80" y="500.06" font-size="5.9" text-anchor="end" fill="#1e1e1e" font-weight="normal" font-style="normal" textLength="11.62" lengthAdjust="spacingAndGlyphs" stroke="#1e1e1e" stroke-width="0.106" >100%</text>
<path d="M55.0,611.4 V613.4" stroke="#b0b0b0" stroke-width="1.2"/>
<text x="55.00" y="618.20" font-size="5.9" text-anchor="middle" fill="#1e1e1e" font-weight="normal" font-style="normal" textLength="2.53" lengthAdjust="spacingAndGlyphs" stroke="#1e1e1e" stroke-width="0.106" >0</text>
<path d="M106.5,611.4 V613.4" stroke="#b0b0b0" stroke-width="1.2"/>
<text x="106.50" y="618.20" font-size="5.9" text-anchor="middle" fill="#1e1e1e" font-weight="normal" font-style="normal" textLength="5.05" lengthAdjust="spacingAndGlyphs" stroke="#1e1e1e" stroke-width="0.106" >12</text>
<path d="M158.0,611.4 V613.4" stroke="#b0b0b0" stroke-width="1.2"/>
<text x="158.00" y="618.20" font-size="5.9" text-anchor="middle" fill="#1e1e1e" font-weight="normal" font-style="normal" textLength="5.05" lengthAdjust="spacingAndGlyphs" stroke="#1e1e1e" stroke-width="0.106" >24</text>
<path d="M209.5,611.4 V613.4" stroke="#b0b0b0" stroke-width="1.2"/>
<text x="209.50" y="618.20" font-size="5.9" text-anchor="middle" fill="#1e1e1e" font-weight="normal" font-style="normal" textLength="5.05" lengthAdjust="spacingAndGlyphs" stroke="#1e1e1e" stroke-width="0.106" >36</text>
<path d="M261.0,611.4 V613.4" stroke="#b0b0b0" stroke-width="1.2"/>
<text x="261.00" y="618.20" font-size="5.9" text-anchor="middle" fill="#1e1e1e" font-weight="normal" font-style="normal" textLength="5.05" lengthAdjust="spacingAndGlyphs" stroke="#1e1e1e" stroke-width="0.106" >48</text>
<text x="0" y="0" font-size="6.8" text-anchor="middle" fill="#1e1e1e" textLength="26.7" lengthAdjust="spacingAndGlyphs" stroke="#1e1e1e" stroke-width="0.25" transform="translate(38.448,554) rotate(-90)">TTNT [%]</text>
<text x="174.90" y="625.52" font-size="7" text-anchor="middle" fill="#1e1e1e" font-weight="normal" font-style="normal" textLength="35.80000000000001" lengthAdjust="spacingAndGlyphs" stroke="#1e1e1e" stroke-width="0.3" >time [months]</text>
<text x="183.6" y="606.16" font-size="6" fill="#1e1e1e" textLength="24.900000000000006" lengthAdjust="spacingAndGlyphs"><tspan font-style="italic">p</tspan> = 0.001</text>
<path d="M55,497.7 H123.8 V525.7 H219.7" stroke="#84d884" stroke-width="1.15" fill="none"/>
<path d="M55.5,511.8 V518.5 H61.2 V525.6 H67.4 V531.8 H68 V540 H70 V554.2 H98.7 V561.5 H134.5 V568.2 H157.7 V576.3 H196.7 V585 H282.5 V594 H295.5" stroke="#e8a932" stroke-width="1.15" fill="none"/>
<path d="M55,497.7 H57 V500.4 H71.1 V503.7 H83.1 V506.8 H149.4 V512.3 H295.5" stroke="#3232b8" stroke-width="1.15" fill="none"/>
<path d="M55,497.7 H56.0 V498.5 H59.0 V499.0 H62.0 V499.5 H104 H106.0 V500.6 H108.0 V501.6 H110.5 V501.8 H112.9 V502.0 H114.5 V503.9 H119 H121.1 V505.0 H124.4 V506.1 H127.0 V507.0 H128.2 V509.4 H130.1 V509.6 H132.0 V509.9 H134.2 V511.0 H140.7 H142.9 V512.1 H145.1 V512.4 H147.3 V512.6 H149.4 V513.7 H151.6 V513.9 H153.8 V514.1 H156.0 V514.3 H159.3 V515.9 H162.0 V516.5 H164.7 V517.0 H166.9 V519.6 H173.9 H176.5 V520.9 H179.0 V521.5 H181.5 V522.2 H198.1 H200.0 V523.8 H201.9 V525.4 H203.8 V527.3 H205.7 V529.2 H219.7 H221.6 V530.2 H223.5 V531.1 H225.4 V533.3 H227.4 V535.5 H229.3 V536.8 H231.2 V538.1 H234.4 V542.9 H239.5 H240.8 V545.1 H243.7 V545.4 H246.5 V545.7 H249.4 V546.0 H252.3 V546.4 H255.5 V550.2 H273.3 H275.8 V552.1 H278.4 V554.0 H280.9 V556.5 H282.8 V557.8 H284.7 V559.1 H295.5" stroke="#c92c2c" stroke-width="1.15" fill="none"/>
<path d="M57.74,499.52 H60.46 L59.1,502.08 Z" fill="#1818d0"/>
<path d="M61.04,499.52 H63.76 L62.4,502.08 Z" fill="#1818d0"/>
<path d="M64.24,499.52 H66.96 L65.6,502.08 Z" fill="#1818d0"/>
<path d="M64.84,499.52 H67.56 L66.2,502.08 Z" fill="#1818d0"/>
<path d="M69.74,499.52 H72.46 L71.1,502.08 Z" fill="#1818d0"/>
<path d="M78.44,502.82 H81.16 L79.8,505.38 Z" fill="#1818d0"/>
<path d="M88.24,505.92 H90.96 L89.6,508.48 Z" fill="#1818d0"/>
<path d="M91.54,505.92 H94.26 L92.9,508.48 Z" fill="#1818d0"/>
<path d="M95.94,505.92 H98.66 L97.3,508.48 Z" fill="#1818d0"/>
<path d="M101.34,505.92 H104.06 L102.7,508.48 Z" fill="#1818d0"/>
<path d="M106.24,505.92 H108.96 L107.6,508.48 Z" fill="#1818d0"/>
<path d="M111.54,505.92 H114.26 L112.9,508.48 Z" fill="#1818d0"/>
<path d="M129.54,505.92 H132.26 L130.9,508.48 Z" fill="#1818d0"/>
<path d="M137.74,505.92 H140.46 L139.1,508.48 Z" fill="#1818d0"/>
<path d="M144.24,505.92 H146.96 L145.6,508.48 Z" fill="#1818d0"/>
<path d="M151.34,511.42 H154.06 L152.7,513.98 Z" fill="#1818d0"/>
<path d="M162.24,511.42 H164.96 L163.6,513.98 Z" fill="#1818d0"/>
<path d="M165.54,511.42 H168.26 L166.9,513.98 Z" fill="#1818d0"/>
<path d="M167.44,511.42 H170.16 L168.8,513.98 Z" fill="#1818d0"/>
<path d="M171.24,511.42 H173.96 L172.6,513.98 Z" fill="#1818d0"/>
<path d="M200.54,511.42 H203.26 L201.9,513.98 Z" fill="#1818d0"/>
<path d="M210.74,511.42 H213.46 L212.1,513.98 Z" fill="#1818d0"/>
<path d="M240.74,511.42 H243.46 L242.1,513.98 Z" fill="#1818d0"/>
<path d="M244.54,511.42 H247.26 L245.9,513.98 Z" fill="#1818d0"/>
<path d="M245.84,511.42 H248.56 L247.2,513.98 Z" fill="#1818d0"/>
<path d="M251.54,511.42 H254.26 L252.9,513.98 Z" fill="#1818d0"/>
<path d="M254.74,511.42 H257.46 L256.1,513.98 Z" fill="#1818d0"/>
<path d="M280.84,511.42 H283.56 L282.2,513.98 Z" fill="#1818d0"/>
<path d="M283.34,511.42 H286.06 L284.7,513.98 Z" fill="#1818d0"/>
<path d="M82.24,498.62 H84.96 L83.6,501.18 Z" fill="#e01414"/>
<path d="M93.14,498.62 H95.86 L94.5,501.18 Z" fill="#e01414"/>
<path d="M96.94,498.62 H99.66 L98.3,501.18 Z" fill="#e01414"/>
<path d="M114.24,503.02 H116.96 L115.6,505.58 Z" fill="#e01414"/>
<path d="M127.94,508.52 H130.66 L129.3,511.08 Z" fill="#e01414"/>
<path d="M132.84,510.12 H135.56 L134.2,512.68 Z" fill="#e01414"/>
<path d="M135.04,510.12 H137.76 L136.4,512.68 Z" fill="#e01414"/>
<path d="M137.14,510.12 H139.86 L138.5,512.68 Z" fill="#e01414"/>
<path d="M148.04,512.82 H150.76 L149.4,515.38 Z" fill="#e01414"/>
<path d="M166.04,518.72 H168.76 L167.4,521.28 Z" fill="#e01414"/>
<path d="M178.24,520.62 H180.96 L179.6,523.18 Z" fill="#e01414"/>
<path d="M184.04,521.32 H186.76 L185.4,523.88 Z" fill="#e01414"/>
<path d="M189.74,521.32 H192.46 L191.1,523.88 Z" fill="#e01414"/>
<path d="M208.14,528.32 H210.86 L209.5,530.88 Z" fill="#e01414"/>
<path d="M223.44,531.12 H226.16 L224.8,533.68 Z" fill="#e01414"/>
<path d="M227.24,535.12 H229.96 L228.6,537.68 Z" fill="#e01414"/>
<path d="M260.44,549.32 H263.16 L261.8,551.88 Z" fill="#e01414"/>
<path d="M264.94,549.32 H267.66 L266.3,551.88 Z" fill="#e01414"/>
<path d="M268.14,549.32 H270.86 L269.5,551.88 Z" fill="#e01414"/>
<path d="M270.64,549.32 H273.36 L272,551.88 Z" fill="#e01414"/>
<path d="M272.54,549.32 H275.26 L273.9,551.88 Z" fill="#e01414"/>
<path d="M61.54,496.82 H64.26 L62.9,499.38 Z" fill="#30d030"/>
<path d="M65.94,496.82 H68.66 L67.3,499.38 Z" fill="#30d030"/>
<path d="M68.64,496.82 H71.36 L70,499.38 Z" fill="#30d030"/>
<path d="M72.44,496.82 H75.16 L73.8,499.38 Z" fill="#30d030"/>
<path d="M85.54,496.82 H88.26 L86.9,499.38 Z" fill="#30d030"/>
<path d="M113.14,496.82 H115.86 L114.5,499.38 Z" fill="#30d030"/>
<path d="M180.84,524.82 H183.56 L182.2,527.38 Z" fill="#30d030"/>
<path d="M189.74,524.82 H192.46 L191.1,527.38 Z" fill="#30d030"/>
<path d="M217.74,524.82 H220.46 L219.1,527.38 Z" fill="#30d030"/>
<path d="M138.64,567.32 H141.36 L140,569.88 Z" fill="#f0a018"/>
<path d="M283.04,593.12 H285.76 L284.4,595.68 Z" fill="#f0a018"/>
<path d="M82.8,580.7 H88.6" stroke="#1010d8" stroke-width="1.2"/>
<path d="M83.49999999999999,579.7 L87.89999999999999,579.7 L85.69999999999999,582.5 Z" fill="#1010d8"/>
<text x="91.10" y="582.64" font-size="5.4" text-anchor="start" fill="#1e1e1e" font-weight="normal" font-style="normal" textLength="32" lengthAdjust="spacingAndGlyphs" stroke="#1e1e1e" stroke-width="0.097" >cBTKi+/-antiCD20</text>
<path d="M82.8,588.3 H88.6" stroke="#18e018" stroke-width="1.2"/>
<path d="M83.49999999999999,587.3 L87.89999999999999,587.3 L85.69999999999999,590.0999999999999 Z" fill="#18e018"/>
<text x="91.10" y="590.24" font-size="5.4" text-anchor="start" fill="#1e1e1e" font-weight="normal" font-style="normal" textLength="32" lengthAdjust="spacingAndGlyphs" stroke="#1e1e1e" stroke-width="0.097" >BCL2i+/-antiCD20</text>
<path d="M82.8,595.8 H88.6" stroke="#e01010" stroke-width="1.2"/>
<path d="M83.49999999999999,594.8 L87.89999999999999,594.8 L85.69999999999999,597.5999999999999 Z" fill="#e01010"/>
<text x="91.10" y="597.74" font-size="5.4" text-anchor="start" fill="#1e1e1e" font-weight="normal" font-style="normal" textLength="24" lengthAdjust="spacingAndGlyphs" stroke="#1e1e1e" stroke-width="0.097" >CT+antiCD20</text>
<path d="M82.8,603.3 H88.6" stroke="#f0a020" stroke-width="1.2"/>
<path d="M83.49999999999999,602.3 L87.89999999999999,602.3 L85.69999999999999,605.0999999999999 Z" fill="#f0a020"/>
<text x="91.10" y="605.24" font-size="5.4" text-anchor="start" fill="#1e1e1e" font-weight="normal" font-style="normal" textLength="5.2" lengthAdjust="spacingAndGlyphs" stroke="#1e1e1e" stroke-width="0.097" >CT</text>
<path d="M46.1,643.7 H51.9" stroke="#1010d8" stroke-width="2.2"/>
<text x="62.5" y="645.36" font-size="4.6" text-anchor="middle" fill="#2e2e2e">49</text>
<text x="106.6" y="645.36" font-size="4.6" text-anchor="middle" fill="#2e2e2e">25</text>
<text x="157.3" y="645.36" font-size="4.6" text-anchor="middle" fill="#2e2e2e">16</text>
<text x="209.2" y="645.36" font-size="4.6" text-anchor="middle" fill="#2e2e2e">9</text>
<text x="260.9" y="645.36" font-size="4.6" text-anchor="middle" fill="#2e2e2e">3</text>
<path d="M46.1,648.6 H51.9" stroke="#18e018" stroke-width="2.2"/>
<text x="62.5" y="650.26" font-size="4.6" text-anchor="middle" fill="#2e2e2e">12</text>
<text x="106.6" y="650.26" font-size="4.6" text-anchor="middle" fill="#2e2e2e">5</text>
<text x="157.3" y="650.26" font-size="4.6" text-anchor="middle" fill="#2e2e2e">3</text>
<text x="209.2" y="650.26" font-size="4.6" text-anchor="middle" fill="#2e2e2e">1</text>
<text x="260.9" y="650.26" font-size="4.6" text-anchor="middle" fill="#2e2e2e">0</text>
<path d="M46.1,653.4 H51.9" stroke="#e01010" stroke-width="2.2"/>
<text x="62.5" y="655.06" font-size="4.6" text-anchor="middle" fill="#2e2e2e">93</text>
<text x="106.6" y="655.06" font-size="4.6" text-anchor="middle" fill="#2e2e2e">85</text>
<text x="157.3" y="655.06" font-size="4.6" text-anchor="middle" fill="#2e2e2e">64</text>
<text x="209.2" y="655.06" font-size="4.6" text-anchor="middle" fill="#2e2e2e">50</text>
<text x="260.9" y="655.06" font-size="4.6" text-anchor="middle" fill="#2e2e2e">34</text>
<path d="M46.1,658.2 H51.9" stroke="#f0a020" stroke-width="2.2"/>
<text x="62.5" y="659.86" font-size="4.6" text-anchor="middle" fill="#2e2e2e">16</text>
<text x="106.6" y="659.86" font-size="4.6" text-anchor="middle" fill="#2e2e2e">7</text>
<text x="157.3" y="659.86" font-size="4.6" text-anchor="middle" fill="#2e2e2e">5</text>
<text x="209.2" y="659.86" font-size="4.6" text-anchor="middle" fill="#2e2e2e">3</text>
<text x="260.9" y="659.86" font-size="4.6" text-anchor="middle" fill="#2e2e2e">3</text>
<text x="164.25" y="464.30" font-size="13" text-anchor="middle" fill="#111" font-weight="normal" font-style="normal" textLength="134.5" lengthAdjust="spacingAndGlyphs" stroke="#111" stroke-width="0.22" >Del(17p)/TP53 wild type</text>
<path d="M367.5,499.2 V611.5 H540" stroke="#848484" stroke-width="1.15" fill="none"/>
<path d="M365.5,611.5 H367.5" stroke="#848484" stroke-width="1.15"/>
<text x="364.30" y="614.22" font-size="6.8" text-anchor="end" fill="#1e1e1e" font-weight="normal" font-style="normal" textLength="8.55" lengthAdjust="spacingAndGlyphs" stroke="#1e1e1e" stroke-width="0.122" >0%</text>
<path d="M365.5,583.675 H367.5" stroke="#848484" stroke-width="1.15"/>
<text x="364.30" y="586.39" font-size="6.8" text-anchor="end" fill="#1e1e1e" font-weight="normal" font-style="normal" textLength="11.84" lengthAdjust="spacingAndGlyphs" stroke="#1e1e1e" stroke-width="0.122" >25%</text>
<path d="M365.5,555.85 H367.5" stroke="#848484" stroke-width="1.15"/>
<text x="364.30" y="558.57" font-size="6.8" text-anchor="end" fill="#1e1e1e" font-weight="normal" font-style="normal" textLength="11.84" lengthAdjust="spacingAndGlyphs" stroke="#1e1e1e" stroke-width="0.122" >50%</text>
<path d="M365.5,528.025 H367.5" stroke="#848484" stroke-width="1.15"/>
<text x="364.30" y="530.75" font-size="6.8" text-anchor="end" fill="#1e1e1e" font-weight="normal" font-style="normal" textLength="11.84" lengthAdjust="spacingAndGlyphs" stroke="#1e1e1e" stroke-width="0.122" >75%</text>
<path d="M365.5,500.2 H367.5" stroke="#848484" stroke-width="1.15"/>
<text x="364.30" y="502.92" font-size="6.8" text-anchor="end" fill="#1e1e1e" font-weight="normal" font-style="normal" textLength="15.13" lengthAdjust="spacingAndGlyphs" stroke="#1e1e1e" stroke-width="0.122" >100%</text>
<path d="M367.5,611.5 V613.5" stroke="#848484" stroke-width="1.15"/>
<text x="367.50" y="619.00" font-size="6.8" text-anchor="middle" fill="#1e1e1e" font-weight="normal" font-style="normal" textLength="3.29" lengthAdjust="spacingAndGlyphs" stroke="#1e1e1e" stroke-width="0.122" >0</text>
<path d="M404.4,611.5 V613.5" stroke="#848484" stroke-width="1.15"/>
<text x="404.40" y="619.00" font-size="6.8" text-anchor="middle" fill="#1e1e1e" font-weight="normal" font-style="normal" textLength="6.58" lengthAdjust="spacingAndGlyphs" stroke="#1e1e1e" stroke-width="0.122" >12</text>
<path d="M441.3,611.5 V613.5" stroke="#848484" stroke-width="1.15"/>
<text x="441.30" y="619.00" font-size="6.8" text-anchor="middle" fill="#1e1e1e" font-weight="normal" font-style="normal" textLength="6.58" lengthAdjust="spacingAndGlyphs" stroke="#1e1e1e" stroke-width="0.122" >24</text>
<path d="M478.2,611.5 V613.5" stroke="#848484" stroke-width="1.15"/>
<text x="478.20" y="619.00" font-size="6.8" text-anchor="middle" fill="#1e1e1e" font-weight="normal" font-style="normal" textLength="6.58" lengthAdjust="spacingAndGlyphs" stroke="#1e1e1e" stroke-width="0.122" >36</text>
<path d="M515.1,611.5 V613.5" stroke="#848484" stroke-width="1.15"/>
<text x="515.10" y="619.00" font-size="6.8" text-anchor="middle" fill="#1e1e1e" font-weight="normal" font-style="normal" textLength="6.58" lengthAdjust="spacingAndGlyphs" stroke="#1e1e1e" stroke-width="0.122" >48</text>
<text x="0" y="0" font-size="7.8" text-anchor="middle" fill="#1e1e1e" textLength="30.9" lengthAdjust="spacingAndGlyphs" stroke="#1e1e1e" stroke-width="0.25" transform="translate(346.108,555.5) rotate(-90)">TTNT [%]</text>
<text x="453.00" y="628.24" font-size="7.9" text-anchor="middle" fill="#1e1e1e" font-weight="normal" font-style="normal" textLength="44" lengthAdjust="spacingAndGlyphs" stroke="#1e1e1e" stroke-width="0.3" >time [months]</text>
<text x="476.7" y="606.304" font-size="6.4" fill="#1e1e1e" textLength="26.0" lengthAdjust="spacingAndGlyphs"><tspan font-style="italic">p</tspan> &lt; 0.0001</text>
<path d="M367.5,500.2 V502.6 H368.5 V506 H369.4 V513.3 H380.3 V528 H540" stroke="#e8a932" stroke-width="1.3" fill="none"/>
<path d="M367.5,500.2 V505.6 H372.3 V511.5 H378.1 V517.3 H385.5 V528.8 H388 V534.9 H398.8 V540 H400 V546.3 H438.1 V552.6 H447.1 V558.4 H455 V564.4 H476 V570 H478 V576 H499.2 V582 H540" stroke="#c92c2c" stroke-width="1.3" fill="none"/>
<path d="M367.5,500.2 H437.4 V507.6 H491 V517.6 H503 V528 H504" stroke="#3232b8" stroke-width="1.3" fill="none"/>
<path d="M503,528 H540" stroke="#8a6a7a" stroke-width="1.3" fill="none"/>
<path d="M367.5,499.9 H540" stroke="#84d884" stroke-width="1.3" fill="none"/>
<path d="M368.30,499.10 H371.70 L370,502.30 Z" fill="#1818d0"/>
<path d="M382.30,499.10 H385.70 L384,502.30 Z" fill="#1818d0"/>
<path d="M401.30,499.10 H404.70 L403,502.30 Z" fill="#1818d0"/>
<path d="M410.30,499.10 H413.70 L412,502.30 Z" fill="#1818d0"/>
<path d="M428.30,499.10 H431.70 L430,502.30 Z" fill="#1818d0"/>
<path d="M432.30,499.10 H435.70 L434,502.30 Z" fill="#1818d0"/>
<path d="M439.30,506.50 H442.70 L441,509.70 Z" fill="#1818d0"/>
<path d="M448.90,506.50 H452.30 L450.6,509.70 Z" fill="#1818d0"/>
<path d="M475.30,506.50 H478.70 L477,509.70 Z" fill="#1818d0"/>
<path d="M485.70,506.50 H489.10 L487.4,509.70 Z" fill="#1818d0"/>
<path d="M511.30,526.90 H514.70 L513,530.10 Z" fill="#1818d0"/>
<path d="M515.30,526.90 H518.70 L517,530.10 Z" fill="#1818d0"/>
<path d="M519.30,526.90 H522.70 L521,530.10 Z" fill="#1818d0"/>
<path d="M521.30,526.90 H524.70 L523,530.10 Z" fill="#1818d0"/>
<path d="M371.5,576.8 H378.7" stroke="#1010d8" stroke-width="1.2"/>
<path d="M372.90000000000003,575.8 L377.3,575.8 L375.1,578.5999999999999 Z" fill="#1010d8"/>
<text x="382.40" y="579.10" font-size="6.4" text-anchor="start" fill="#1e1e1e" font-weight="normal" font-style="normal" textLength="39.4" lengthAdjust="spacingAndGlyphs" stroke="#1e1e1e" stroke-width="0.115" >cBTKi+/-antiCD20</text>
<path d="M371.5,585.5 H378.7" stroke="#18e018" stroke-width="1.2"/>
<path d="M372.90000000000003,584.5 L377.3,584.5 L375.1,587.3 Z" fill="#18e018"/>
<text x="382.40" y="587.80" font-size="6.4" text-anchor="start" fill="#1e1e1e" font-weight="normal" font-style="normal" textLength="39.4" lengthAdjust="spacingAndGlyphs" stroke="#1e1e1e" stroke-width="0.115" >BCL2i+/-antiCD20</text>
<path d="M371.5,594.1 H378.7" stroke="#e01010" stroke-width="1.2"/>
<path d="M372.90000000000003,593.1 L377.3,593.1 L375.1,595.9 Z" fill="#e01010"/>
<text x="382.40" y="596.40" font-size="6.4" text-anchor="start" fill="#1e1e1e" font-weight="normal" font-style="normal" textLength="29.2" lengthAdjust="spacingAndGlyphs" stroke="#1e1e1e" stroke-width="0.115" >CT+antiCD20</text>
<path d="M371.5,603.2 H378.7" stroke="#f0a020" stroke-width="1.2"/>
<path d="M372.90000000000003,602.2 L377.3,602.2 L375.1,605.0 Z" fill="#f0a020"/>
<text x="382.40" y="605.50" font-size="6.4" text-anchor="start" fill="#1e1e1e" font-weight="normal" font-style="normal" textLength="6.2" lengthAdjust="spacingAndGlyphs" stroke="#1e1e1e" stroke-width="0.115" >CT</text>
<path d="M356.2,648.9 H363.3" stroke="#1010d8" stroke-width="2.2"/>
<text x="372.9" y="650.59" font-size="4.7" text-anchor="middle" fill="#2e2e2e">21</text>
<text x="404" y="650.59" font-size="4.7" text-anchor="middle" fill="#2e2e2e">18</text>
<text x="440.6" y="650.59" font-size="4.7" text-anchor="middle" fill="#2e2e2e">14</text>
<text x="478" y="650.59" font-size="4.7" text-anchor="middle" fill="#2e2e2e">11</text>
<text x="515" y="650.59" font-size="4.7" text-anchor="middle" fill="#2e2e2e">7</text>
<path d="M356.2,653.6 H363.3" stroke="#18e018" stroke-width="2.2"/>
<text x="372.9" y="655.29" font-size="4.7" text-anchor="middle" fill="#2e2e2e">1</text>
<text x="404" y="655.29" font-size="4.7" text-anchor="middle" fill="#2e2e2e">1</text>
<text x="440.6" y="655.29" font-size="4.7" text-anchor="middle" fill="#2e2e2e">1</text>
<text x="478" y="655.29" font-size="4.7" text-anchor="middle" fill="#2e2e2e">1</text>
<text x="515" y="655.29" font-size="4.7" text-anchor="middle" fill="#2e2e2e">1</text>
<path d="M356.2,658.3 H363.3" stroke="#e01010" stroke-width="2.2"/>
<text x="372.9" y="659.99" font-size="4.7" text-anchor="middle" fill="#2e2e2e">19</text>
<text x="404" y="659.99" font-size="4.7" text-anchor="middle" fill="#2e2e2e">11</text>
<text x="440.6" y="659.99" font-size="4.7" text-anchor="middle" fill="#2e2e2e">10</text>
<text x="478" y="659.99" font-size="4.7" text-anchor="middle" fill="#2e2e2e">7</text>
<text x="515" y="659.99" font-size="4.7" text-anchor="middle" fill="#2e2e2e">5</text>
<path d="M356.2,662.6 H363.3" stroke="#f0a020" stroke-width="2.2"/>
<text x="372.9" y="664.29" font-size="4.7" text-anchor="middle" fill="#2e2e2e">8</text>
<text x="404" y="664.29" font-size="4.7" text-anchor="middle" fill="#2e2e2e">6</text>
<text x="440.6" y="664.29" font-size="4.7" text-anchor="middle" fill="#2e2e2e">6</text>
<text x="478" y="664.29" font-size="4.7" text-anchor="middle" fill="#2e2e2e">6</text>
<text x="515" y="664.29" font-size="4.7" text-anchor="middle" fill="#2e2e2e">6</text>
<text x="439.55" y="464.30" font-size="13" text-anchor="middle" fill="#111" font-weight="normal" font-style="normal" textLength="135.7" lengthAdjust="spacingAndGlyphs" stroke="#111" stroke-width="0.22" >Del(17p)/TP53 disrupted</text>
<text x="13.60" y="118.80" font-size="12.5" text-anchor="middle" fill="#111" font-weight="normal" font-style="normal" textLength="15.3" lengthAdjust="spacingAndGlyphs" stroke="#111" stroke-width="0.4" >(A)</text>
<text x="13.30" y="344.20" font-size="12.5" text-anchor="middle" fill="#111" font-weight="normal" font-style="normal" textLength="14.7" lengthAdjust="spacingAndGlyphs" stroke="#111" stroke-width="0.4" >(B)</text>
<text x="12.00" y="569.80" font-size="12.5" text-anchor="middle" fill="#111" font-weight="normal" font-style="normal" textLength="14.2" lengthAdjust="spacingAndGlyphs" stroke="#111" stroke-width="0.4" >(C)</text>
</svg></body></html>
